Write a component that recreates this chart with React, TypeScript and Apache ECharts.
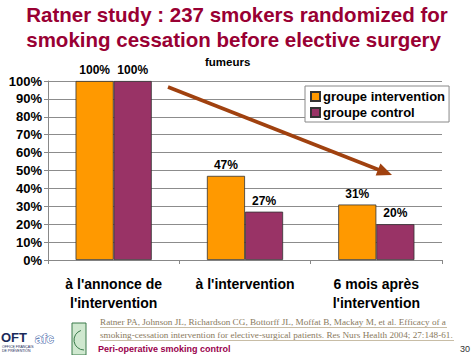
import React, { useEffect, useRef } from "react";
import * as echarts from "echarts";

const categories = ["à l'annonce de\nl'intervention", "à l'intervention", "6 mois après\nl'intervention"];
const seriesNames = ["groupe intervention", "groupe control"];
const intervention = [100, 47, 31];
const control = [100, 27, 20];
const yTicks = { min: 0, max: 100, interval: 10 };

export default function App() {
  const ref = useRef<HTMLDivElement>(null);
  useEffect(() => {
    if (!ref.current) return;
    const chart = echarts.init(ref.current, null, { renderer: "svg" });
    const font = "Liberation Sans, Arial, sans-serif";
    const serif = "Liberation Serif, Times New Roman, serif";
    const barLabel = {
      show: true,
      position: "top",
      formatter: "{c}%",
      fontFamily: font,
      fontWeight: "bold",
      fontSize: 12,
      color: "#000",
      distance: 5,
    };
    // arrow geometry
    const ax1 = 168, ay1 = 87, ax2 = 392, ay2 = 175;
    const dx = ax2 - ax1, dy = ay2 - ay1;
    const len = Math.sqrt(dx * dx + dy * dy);
    const ux = dx / len, uy = dy / len;
    const hl = 15, hw = 6.5;
    const bx = ax2 - ux * hl, by = ay2 - uy * hl;
    chart.setOption({
      animation: false,
      backgroundColor: "#fff",
      textStyle: { fontFamily: font },
      grid: { left: 48, right: 32, top: 81, bottom: 95, containLabel: false },
      legend: {
        orient: "vertical",
        left: 305,
        top: 86,
        width: 137,
        backgroundColor: "#fff",
        borderColor: "#888",
        borderWidth: 1,
        padding: [4, 4, 3, 5],
        itemGap: 3,
        itemWidth: 9,
        itemHeight: 9,
        icon: "rect",
        textStyle: { fontFamily: font, fontWeight: "bold", fontSize: 13, color: "#000", padding: [0, 0, 0, -2] },
        data: seriesNames,
      },
      xAxis: {
        type: "category",
        data: categories,
        axisLine: { show: true, lineStyle: { color: "#888", width: 1 } },
        axisTick: { show: true, length: 4, lineStyle: { color: "#888" } },
        axisLabel: {
          fontFamily: font,
          fontWeight: "bold",
          fontSize: 14,
          color: "#000",
          margin: 14,
          lineHeight: 19,
          interval: 0,
        },
      },
      yAxis: {
        type: "value",
        min: yTicks.min,
        max: yTicks.max,
        interval: yTicks.interval,
        axisLine: { show: true, lineStyle: { color: "#888" } },
        axisTick: { show: true, length: 4, lineStyle: { color: "#888" } },
        splitLine: { show: true, lineStyle: { color: "#8c8c8c", width: 1 } },
        axisLabel: {
          formatter: "{value}%",
          fontFamily: font,
          fontWeight: "bold",
          fontSize: 13,
          color: "#000",
          margin: 6,
        },
      },
      series: [
        {
          name: seriesNames[0],
          type: "bar",
          data: intervention,
          barGap: "0%",
          barCategoryGap: "42%",
          itemStyle: { color: "#FF9900", borderColor: "#333", borderWidth: 0.8 },
          label: barLabel,
        },
        {
          name: seriesNames[1],
          type: "bar",
          data: control,
          itemStyle: { color: "#993366", borderColor: "#333", borderWidth: 0.8 },
          label: barLabel,
        },
      ],
      graphic: [
        {
          type: "text",
          left: "center",
          top: 2,
          style: {
            text: "Ratner study : 237 smokers randomized for\nsmoking cessation before elective surgery",
            fontFamily: font,
            fontWeight: "bold",
            fontSize: 20.5,
            lineHeight: 25,
            fill: "#990033",
            align: "center",
          },
        },
        {
          type: "text",
          x: 205,
          y: 56,
          style: { text: "fumeurs", fontFamily: font, fontWeight: "bold", fontSize: 11.5, fill: "#000" },
        },
        {
          type: "line",
          shape: { x1: ax1, y1: ay1, x2: bx + ux * 2, y2: by + uy * 2 },
          style: { stroke: "#A0410F", lineWidth: 3.5 },
          z: 10,
        },
        {
          type: "polygon",
          shape: {
            points: [
              [ax2, ay2],
              [bx - uy * hw, by + ux * hw],
              [bx + uy * hw, by - ux * hw],
            ],
          },
          style: { fill: "#A0410F" },
          z: 10,
        },
        // citation
        {
          type: "text",
          x: 100,
          y: 317,
          style: {
            text: "Ratner PA, Johnson JL, Richardson CG, Bottorff JL, Moffat B, Mackay M, et al. Efficacy of a",
            fontFamily: serif,
            fontSize: 9.2,
            fill: "#8a7a60",
          },
        },
        {
          type: "text",
          x: 100,
          y: 330,
          style: {
            text: "smoking-cessation intervention for elective-surgical patients. Res Nurs Health 2004; 27:148-61.",
            fontFamily: serif,
            fontSize: 9.2,
            fill: "#8a7a60",
          },
        },
        { type: "line", shape: { x1: 100, y1: 327.5, x2: 447, y2: 327.5 }, style: { stroke: "#b0a080", lineWidth: 0.7 } },
        { type: "line", shape: { x1: 100, y1: 340.5, x2: 454, y2: 340.5 }, style: { stroke: "#b0a080", lineWidth: 0.7 } },
        {
          type: "text",
          x: 98,
          y: 344,
          style: { text: "Peri-operative smoking control", fontFamily: font, fontWeight: "bold", fontSize: 9, fill: "#99004d" },
        },
        {
          type: "text",
          x: 460,
          y: 344,
          style: { text: "30", fontFamily: font, fontSize: 9, fill: "#333" },
        },
        // logos (approximate)
        {
          type: "text",
          x: 1,
          y: 331,
          style: { text: "OFT", fontFamily: font, fontWeight: "bold", fontSize: 13, fill: "#1a2a5a" },
        },
        {
          type: "text",
          x: 2,
          y: 345,
          style: { text: "OFFICE FRANÇAIS\nDE PRÉVENTION", fontFamily: font, fontSize: 3.5, lineHeight: 4, fill: "#1a2a5a" },
        },
        {
          type: "text",
          x: 35,
          y: 332,
          style: { text: "afc", fontFamily: font, fontWeight: "bold", fontSize: 13, fill: "#fff", stroke: "#4a6aa8", lineWidth: 1 },
        },
        {
          type: "rect",
          shape: { x: 72, y: 323, width: 14, height: 32 },
          style: { fill: "#cfe8cf", stroke: "#3a7a4a", lineWidth: 1 },
        },
        {
          type: "arc",
          shape: { cx: 84, cy: 340, r: 10, startAngle: Math.PI * 0.5, endAngle: Math.PI * 1.4 },
          style: { stroke: "#3a7a4a", fill: "none", lineWidth: 1 },
        },
      ],
    });
    return () => chart.dispose();
  }, []);
  return <div ref={ref} style={{ position: "fixed", left: 0, top: 0, width: 474, height: 355 }} />;
}
